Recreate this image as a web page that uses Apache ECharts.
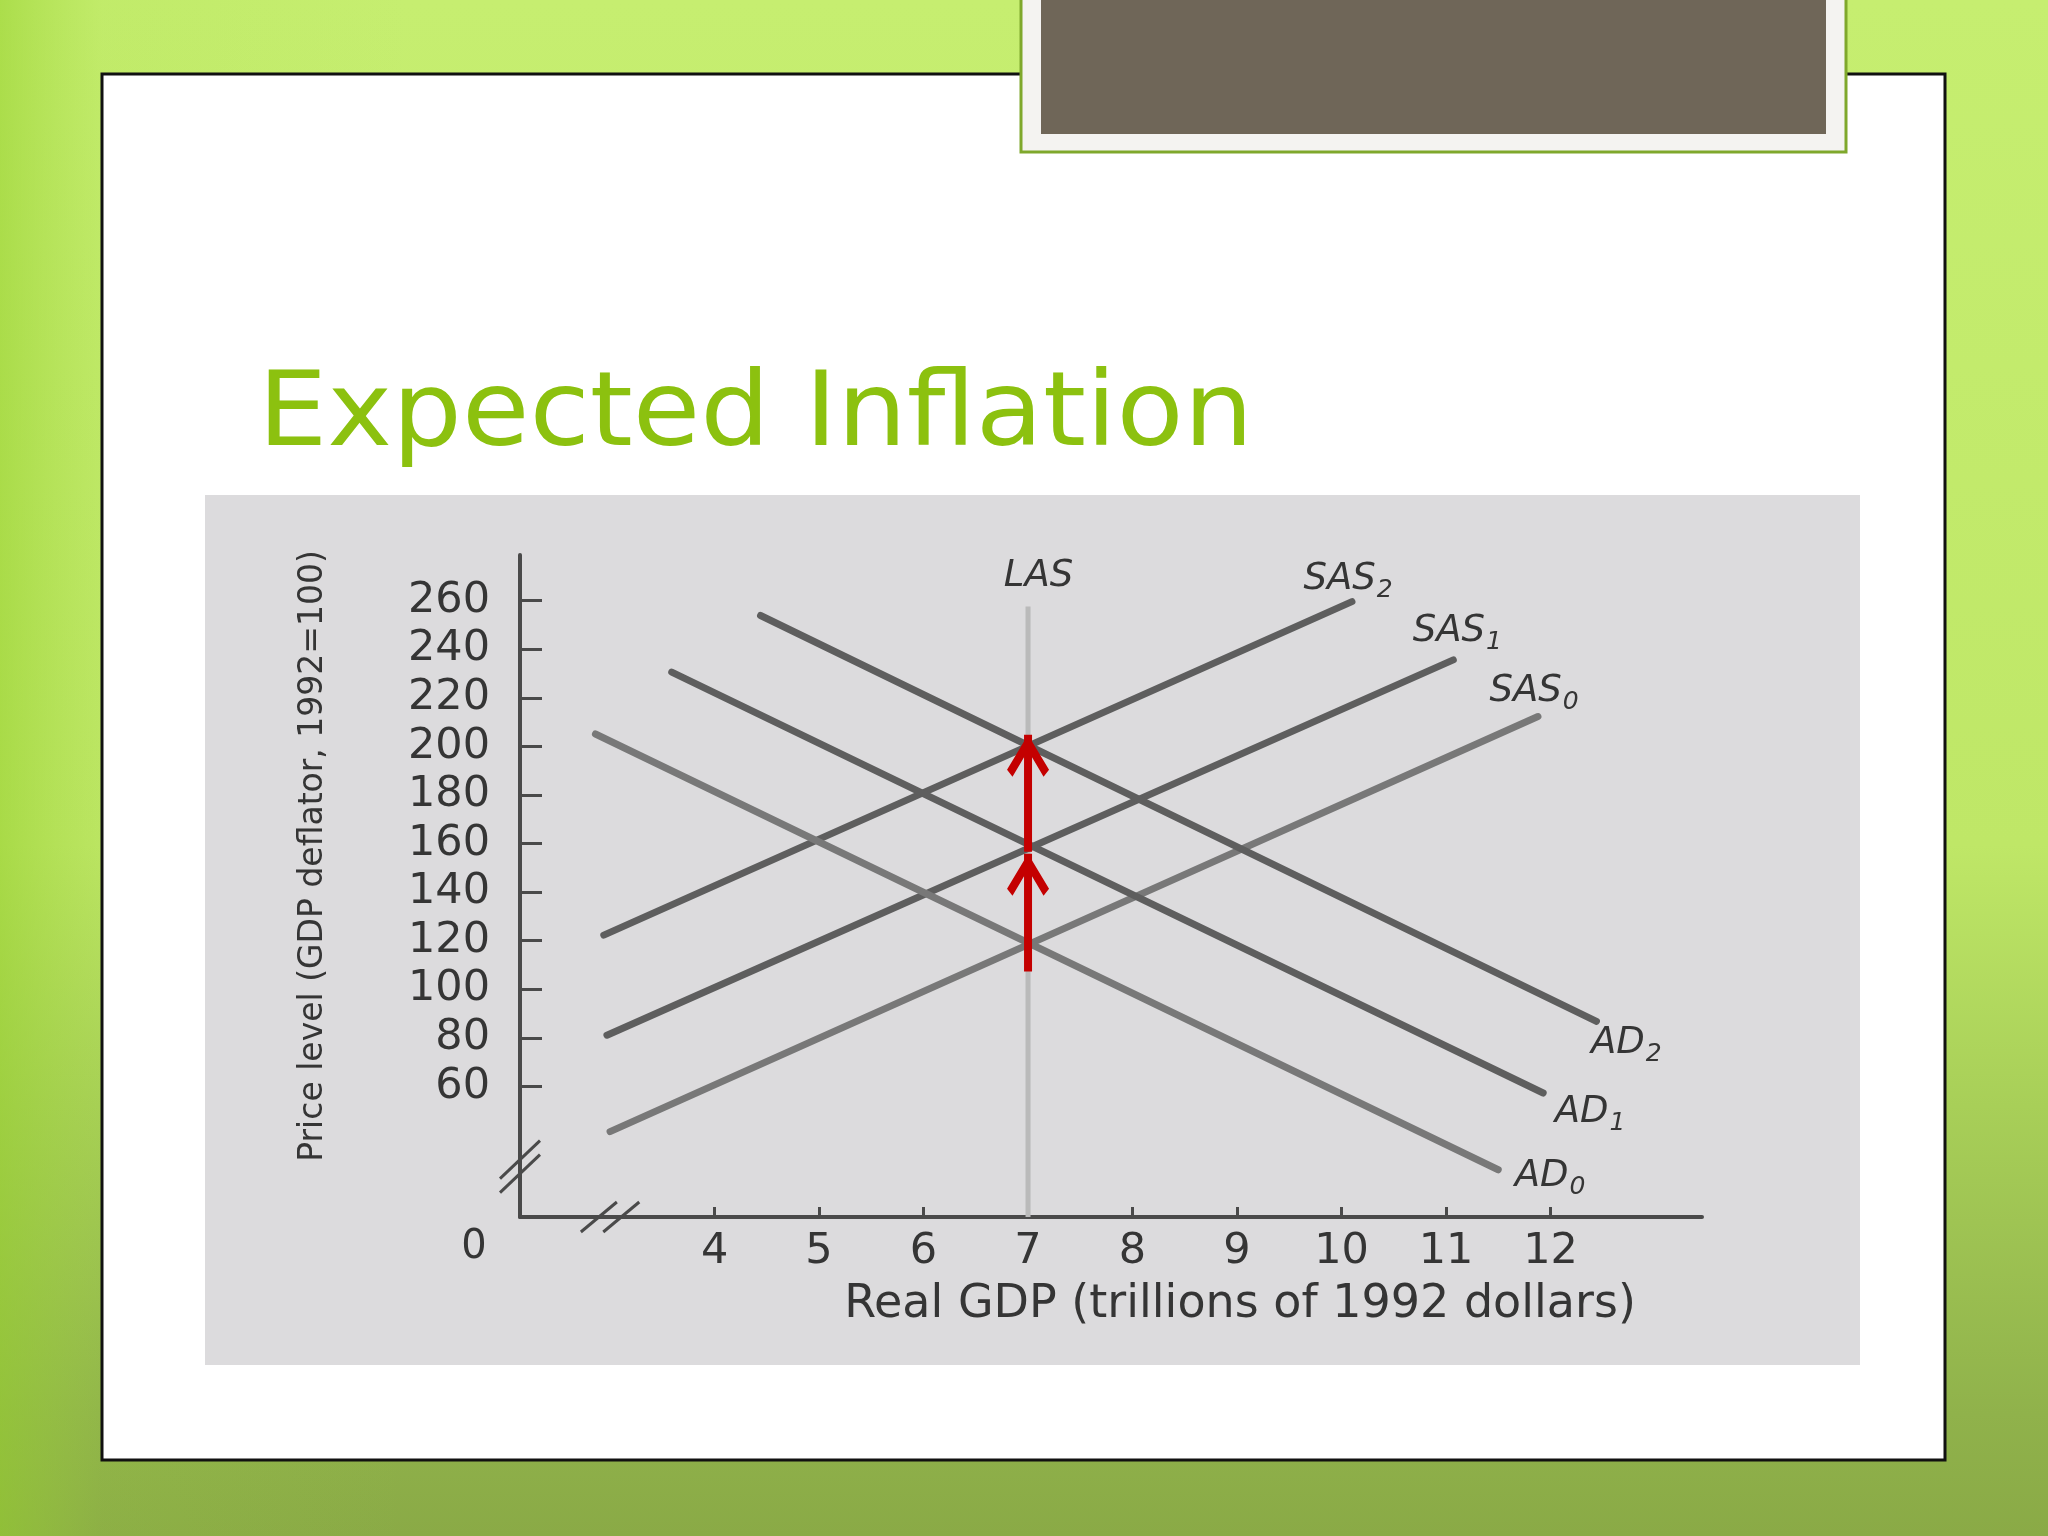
<!DOCTYPE html>
<html>
<head>
<meta charset="utf-8">
<script src="https://cdn.jsdelivr.net/npm/echarts@6/dist/echarts.min.js"></script>
<style>
html,body{margin:0;padding:0;background:#fff;}
#c{width:2048px;height:1536px;}
</style>
</head>
<body>
<div id="c"></div>
<script>
// ---- data ----
const titleText = 'Expected Inflation';
const xAxisName = 'Real GDP (trillions of 1992 dollars)';
const yAxisName = 'Price level (GDP deflator, 1992=100)';
const xTicks = [4, 5, 6, 7, 8, 9, 10, 11, 12];
const yTicks = [60, 80, 100, 120, 140, 160, 180, 200, 220, 240, 260];
const sas0 = [[3.00, 41.4], [11.88, 212.3]];
const sas1 = [[2.97, 81.1], [11.07, 235.6]];
const sas2 = [[2.94, 122.3], [10.10, 259.6]];
const ad0 = [[2.86, 205.1], [11.50, 25.7]];
const ad1 = [[3.59, 230.6], [11.93, 57.3]];
const ad2 = [[4.44, 253.9], [12.44, 86.8]];
const lasX = 7;
const lasTop = 257.6;
const arrowLow = [107.3, 155.8];
const arrowHigh = [156.6, 204.8];
const breakY = 27;   // position of the y-axis break mark
const breakX = 3.0;  // position of the x-axis break mark

// ---- axis extent (layout) ----
const X_MIN = 2.138, X_MAX = 13.45, Y_MIN = 6.24, Y_MAX = 278.8;

const FONT = 'DejaVu Sans';
const DARK = '#5e5e5e', LIGHT = '#787878';
const TXT = '#353535';

const chart = echarts.init(document.getElementById('c'), null, {width: 2048, height: 1536, renderer: 'canvas'});

const rich = {
  m: {fontFamily: FONT, fontSize: 37, fontStyle: 'italic', color: TXT},
  s: {fontFamily: FONT, fontSize: 25, fontStyle: 'italic', color: TXT, padding: [22, 0, 0, 1]}
};

function mark(pt, text, dx, dy, align) {
  return {
    symbol: 'circle', symbolSize: 1, silent: true, animation: false,
    itemStyle: {color: 'rgba(0,0,0,0)'},
    data: [{
      coord: pt,
      label: {show: true, position: [dx, dy], align: align || 'left', verticalAlign: 'middle',
        formatter: text, rich: rich}
    }]
  };
}

function curve(name, data, color, lbl, dx, dy) {
  return {
    name: name, type: 'line', data: data, showSymbol: false, symbol: 'none', silent: true,
    animation: false, clip: false, z: 3,
    lineStyle: {color: color, width: 7, cap: 'round'},
    markPoint: mark(data[data.length - 1], lbl, dx, dy)
  };
}

const chevron = 'path://M50,0 L100,80 L87,96 L50,36 L13,96 L0,80 Z';

const bg = [
  {type: 'rect', id: 'bg', z: -20, shape: {x: 0, y: 0, width: 2048, height: 1536},
   style: {fill: new echarts.graphic.LinearGradient(0, 0, 0, 1, [
     {offset: 0, color: '#c6ee70'}, {offset: 0.55, color: '#bfe767'},
     {offset: 0.72, color: '#a8cf58'}, {offset: 0.92, color: '#90b24b'}, {offset: 1, color: '#8aaa46'}])}},
  {type: 'rect', id: 'bgl', z: -19, shape: {x: 0, y: 0, width: 2048, height: 1536},
   style: {fill: new echarts.graphic.LinearGradient(0, 0, 1, 0, [
     {offset: 0, color: 'rgba(150,208,45,0.55)'}, {offset: 0.05, color: 'rgba(160,215,60,0.12)'},
     {offset: 0.2, color: 'rgba(160,215,60,0.0)'}, {offset: 1, color: 'rgba(160,215,60,0.0)'}])}},
  {type: 'rect', id: 'slide', z: -18, shape: {x: 102, y: 74, width: 1843, height: 1386},
   style: {fill: '#ffffff', stroke: '#111111', lineWidth: 3}},
  {type: 'rect', id: 'boxo', z: -17, shape: {x: 1021, y: -10, width: 825, height: 162},
   style: {fill: '#f4f3f1', stroke: '#7fa82c', lineWidth: 3}},
  {type: 'rect', id: 'boxi', z: -16, shape: {x: 1041, y: 0, width: 785, height: 134},
   style: {fill: '#6f6658'}},
  {type: 'text', id: 'title', z: -15, x: 258, y: 418, scaleX: 1.055,
   style: {text: titleText, fontFamily: FONT, fontSize: 104, fill: '#8cc10f',
     align: 'left', verticalAlign: 'middle'}},
  {type: 'rect', id: 'panel', z: -14, shape: {x: 205, y: 495, width: 1655, height: 870},
   style: {fill: '#dcdbdd'}}
];

const option = {
  animation: false,
  backgroundColor: '#ffffff',
  graphic: bg,
  grid: {left: 520, top: 555, right: 346, bottom: 319, containLabel: false},
  xAxis: {
    type: 'value', min: X_MIN, max: X_MAX,
    name: xAxisName, nameLocation: 'middle', nameGap: 65,
    nameTextStyle: {fontFamily: FONT, fontSize: 46, color: TXT, padding: [0, 0, 0, 258]},
    axisLine: {show: true, lineStyle: {color: '#4a4a4a', width: 4}},
    axisTick: {show: true, inside: true, length: 10, customValues: xTicks, lineStyle: {color: '#4a4a4a', width: 3}},
    axisLabel: {show: true, customValues: xTicks, margin: 13, fontFamily: FONT, fontSize: 43, color: TXT},
    splitLine: {show: false}
  },
  yAxis: {
    type: 'value', min: Y_MIN, max: Y_MAX,
    name: yAxisName, nameLocation: 'middle', nameGap: 190, nameRotate: 90,
    nameTextStyle: {fontFamily: FONT, fontSize: 33, color: TXT, padding: [0, 0, 0, 60]},
    axisLine: {show: true, lineStyle: {color: '#4a4a4a', width: 4}},
    axisTick: {show: true, inside: true, length: 22, customValues: yTicks, lineStyle: {color: '#4a4a4a', width: 3}},
    axisLabel: {show: true, customValues: yTicks, margin: 30, fontFamily: FONT, fontSize: 43, color: TXT},
    splitLine: {show: false}
  },
  series: [
    {
      name: 'LAS', type: 'line', data: [[lasX, Y_MIN], [lasX, lasTop]], showSymbol: false, symbol: 'none',
      silent: true, z: 2, lineStyle: {color: '#bababa', width: 5},
      markPoint: mark([lasX, lasTop], '{m|LAS}', 11, -30, 'center')
    },
    curve('SAS0', sas0, LIGHT, '{m|SAS}{s|0}', -48, -25),
    curve('SAS1', sas1, DARK, '{m|SAS}{s|1}', -40, -28),
    curve('SAS2', sas2, DARK, '{m|SAS}{s|2}', -48, -22),
    curve('AD0', ad0, LIGHT, '{m|AD}{s|0}', 17, 7),
    curve('AD1', ad1, DARK, '{m|AD}{s|1}', 12, 20),
    curve('AD2', ad2, DARK, '{m|AD}{s|2}', -5, 23),
    {
      name: 'arrowLow', type: 'line', data: [[lasX, arrowLow[0]], [lasX, arrowLow[1]]], showSymbol: false,
      symbol: 'none', silent: true, z: 5, lineStyle: {color: '#c40000', width: 8, cap: 'butt'}
    },
    {
      name: 'arrowHigh', type: 'line', data: [[lasX, arrowHigh[0]], [lasX, arrowHigh[1]]], showSymbol: false,
      symbol: 'none', silent: true, z: 5, lineStyle: {color: '#c40000', width: 8, cap: 'butt'}
    },
    {
      name: 'heads', type: 'scatter', data: [[lasX, arrowLow[1]], [lasX, arrowHigh[1]]],
      symbol: chevron, symbolSize: [42, 42], symbolOffset: [0, '50%'], silent: true, z: 6,
      itemStyle: {color: '#c40000', opacity: 1}
    }
  ]
};
chart.setOption(option);

// decorative axis-break marks and origin label, placed through the axes
const o = chart.convertToPixel({gridIndex: 0}, [X_MIN, Y_MIN]);
const by = chart.convertToPixel({gridIndex: 0}, [X_MIN, breakY]);
const bx = chart.convertToPixel({gridIndex: 0}, [breakX, Y_MIN]);
const extra = [];
[-7, 7].forEach(function (d, i) {
  extra.push({type: 'line', id: 'yb' + i, z: 20,
    shape: {x1: by[0] - 20, y1: by[1] + 19 + d, x2: by[0] + 20, y2: by[1] - 19 + d},
    style: {stroke: '#4a4a4a', lineWidth: 3}});
  extra.push({type: 'line', id: 'xb' + i, z: 20,
    shape: {x1: bx[0] - 18 + d * 1.6, y1: bx[1] + 15, x2: bx[0] + 18 + d * 1.6, y2: bx[1] - 15},
    style: {stroke: '#4a4a4a', lineWidth: 3}});
});
extra.push({type: 'text', id: 'zero', z: 20, x: o[0] - 46, y: o[1] + 31,
  style: {text: '0', fontFamily: FONT, fontSize: 40, fill: TXT, align: 'center', verticalAlign: 'middle'}});
chart.setOption({graphic: extra});
</script>
</body>
</html>
